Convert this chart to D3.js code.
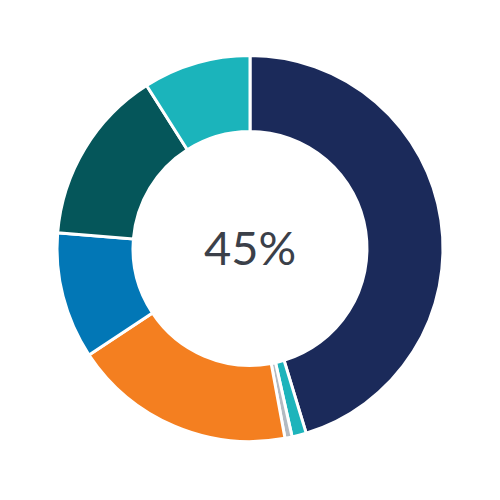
<!DOCTYPE html>
<html lang="en">
<head>
    <meta charset="UTF-8">
    <title>Donut</title>
    <script src="https://cdn.jsdelivr.net/npm/d3@7"></script>
    <style>
        body { margin: 0; background: #fff; }
        .label {
            font-family: Lato, sans-serif;
            font-size: 47px;
            fill: #3b4049;
        }
    </style>
</head>
<body>
<svg id="vis" width="500" height="500"></svg>
<script>
    // slices, clockwise from 12 o'clock
    let categories = ["A", "B", "C", "D", "E", "F", "G"];
    let values = [45.3, 1.2, 0.6, 18.6, 10.6, 14.7, 9.0];
    let colors = ["#1b2a5a", "#1db4bb", "#b3bac2", "#f47f20", "#0277b6", "#05565a", "#1bb4bb"];
    let centerLabel = "45%";

    let svg = d3.select("#vis");
    let width = +svg.attr("width");
    let height = +svg.attr("height");

    let cx = 250, cy = 248.5;
    let outer = 193, inner = 117;

    let color = d3.scaleOrdinal().domain(categories).range(colors);

    let pie = d3.pie().sort(null).value((d, i) => values[i]);
    let arc = d3.arc().innerRadius(inner).outerRadius(outer);

    let g = svg.append("g").attr("transform", "translate(" + cx + "," + cy + ")");

    g.selectAll("path")
        .data(pie(categories))
        .join("path")
        .attr("d", arc)
        .attr("fill", (d) => color(d.data))
        .attr("stroke", "#fff")
        .attr("stroke-width", 3);

    g.append("text")
        .attr("class", "label")
        .attr("text-anchor", "middle")
        .attr("y", 16)
        .text(centerLabel);
</script>
</body>
</html>
